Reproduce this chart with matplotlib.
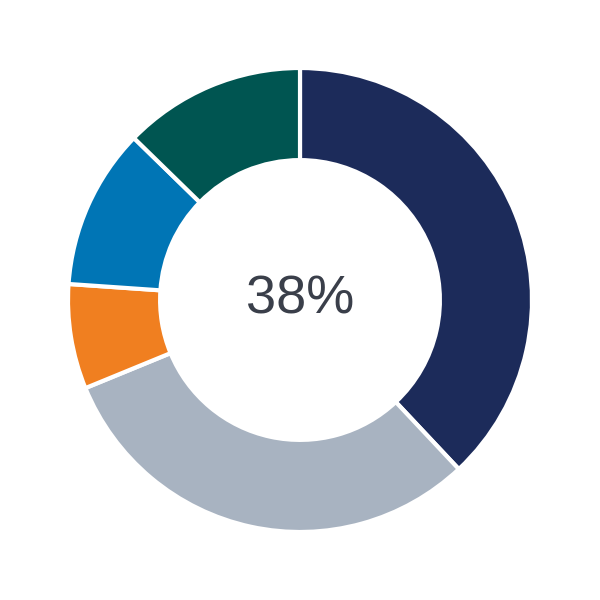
import matplotlib.pyplot as plt

labels = ['Navy', 'Gray', 'Orange', 'Blue', 'Green']
values = [38.0, 30.8, 7.3, 11.2, 12.7]
colors = ['#1c2b5a', '#a8b3c1', '#f07f20', '#0075b5', '#005551']
center_label = '38%'

fig = plt.figure(figsize=(6, 6), dpi=100)
ax = fig.add_axes([0, 0, 1, 1])

ax.pie(values, colors=colors, startangle=90, counterclock=False,
       radius=1.0,
       wedgeprops=dict(width=0.397, edgecolor='white', linewidth=3))

ax.text(0, 0, center_label, ha='center', va='center', fontsize=39,
        color='#3a3f4a', family='Liberation Sans')

lim = 300 / 232
ax.set_xlim(-lim, lim)
ax.set_ylim(-lim, lim)
ax.set_aspect('equal')
ax.axis('off')

fig.savefig('out.png', dpi=100, facecolor='white')
